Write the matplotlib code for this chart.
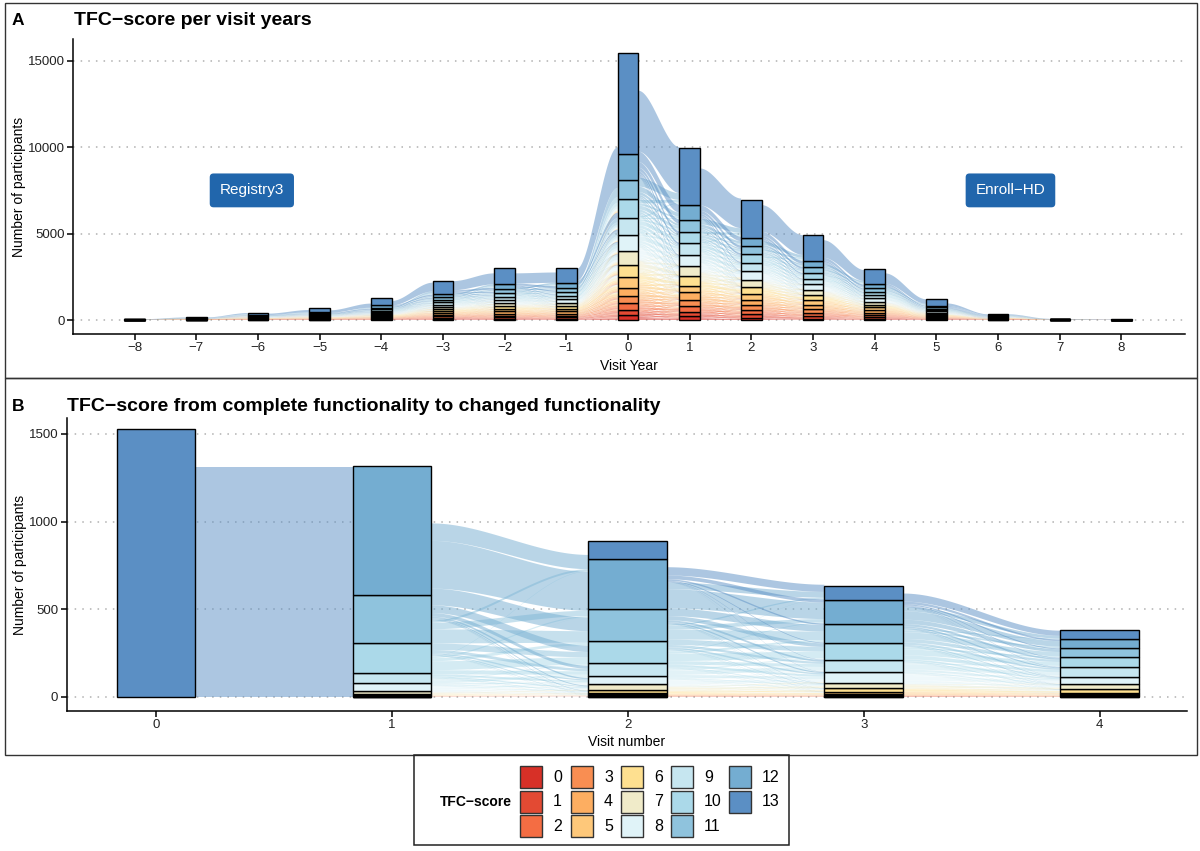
import numpy as np
import matplotlib.pyplot as plt
from matplotlib.collections import PolyCollection
from matplotlib.patches import Rectangle

plt.rcParams['font.family'] = ['Liberation Sans', 'DejaVu Sans']

MINUS = '\u2212'

# TFC-score palette (0 .. 13)
scores = list(range(14))
colours = ['#d73027', '#e34a33', '#f46d43', '#f98e52', '#fdae61', '#fec87a', '#fee090',
           '#f0ebc9', '#e0f3f8', '#c6e6f0', '#abd9e9', '#8fc3dd', '#74add1', '#5b8fc4']

# ---- panel A: participants per visit year, one row per year, columns = score 0..13
years = list(range(-8, 9))
counts_year = [
    [2, 2, 2, 3, 3, 3, 3, 3, 3, 3, 4, 4, 5, 10],                              # -8
    [6, 7, 7, 8, 8, 9, 9, 9, 10, 10, 11, 12, 14, 30],                         # -7
    [15, 15, 16, 18, 20, 22, 22, 24, 26, 28, 30, 34, 40, 120],                # -6
    [20, 22, 24, 27, 30, 32, 34, 36, 38, 42, 45, 50, 60, 255],                # -5
    [35, 40, 40, 45, 50, 55, 55, 60, 65, 75, 90, 105, 135, 400],              # -4
    [65, 70, 75, 85, 95, 105, 115, 125, 135, 145, 155, 165, 190, 725],        # -3
    [75, 85, 95, 115, 130, 145, 155, 170, 185, 200, 215, 230, 260, 930],      # -2
    [75, 85, 100, 115, 135, 150, 165, 180, 195, 210, 225, 245, 280, 870],     # -1
    [270, 310, 380, 440, 430, 640, 690, 850, 900, 970, 1110, 1100, 1510, 5870],  # 0
    [210, 270, 330, 350, 440, 365, 575, 580, 640, 710, 650, 680, 850, 3310],  # 1
    [135, 215, 230, 310, 290, 340, 400, 390, 520, 490, 500, 440, 500, 2180],  # 2
    [60, 170, 190, 220, 245, 275, 285, 305, 310, 330, 340, 350, 350, 1480],   # 3
    [85, 100, 115, 130, 145, 155, 165, 175, 180, 190, 200, 210, 230, 850],    # 4
    [40, 50, 45, 50, 55, 60, 60, 65, 70, 75, 80, 85, 95, 365],                # 5
    [15, 17, 16, 17, 18, 20, 22, 22, 24, 26, 28, 30, 35, 60],                 # 6
    [3, 4, 4, 4, 4, 5, 5, 5, 5, 6, 6, 7, 8, 14],                              # 7
    [1, 1, 1, 2, 2, 2, 2, 2, 2, 2, 2, 2, 3, 6],                               # 8
]
# participants carried by the flows, leaving year k / arriving at year k+1
flow_out_year = [50, 150, 370, 560, 1100, 2250, 2700, 2950, 13270, 8770, 6650, 4620, 2700, 960, 330, 60]
flow_in_year = [150, 400, 580, 950, 2160, 2700, 2750, 10000, 10000, 7030, 4910, 2890, 1200, 330, 70, 20]

# ---- panel B: from complete (13) to changed functionality
visits = [0, 1, 2, 3, 4]
counts_visit = [
    [0, 0, 0, 0, 0, 0, 0, 0, 0, 0, 0, 0, 0, 1530],
    [1, 1, 2, 2, 3, 3, 5, 17, 48, 57, 171, 272, 736, 0],
    [1, 2, 3, 4, 5, 6, 19, 32, 48, 76, 126, 177, 288, 105],
    [1, 2, 3, 4, 5, 15, 20, 28, 65, 68, 97, 108, 137, 82],
    [1, 2, 3, 5, 6, 8, 19, 30, 42, 57, 53, 54, 51, 51],
]
flow_out_visit = [1310, 990, 740, 590]
flow_in_visit = [1310, 810, 640, 378]

BW = 1 / 3


def transitions(left, right, spread):
    # spread each stratum over the next column's strata, favouring nearby scores
    p = np.asarray(left, float)
    p = p / p.sum()
    q = np.asarray(right, float)
    q = q / q.sum()
    idx = np.arange(len(p))
    m = np.exp(-np.abs(idx[:, None] - idx[None, :]) / spread)
    for _ in range(300):
        rs = m.sum(1)
        m *= np.divide(p, rs, out=np.zeros_like(p), where=rs > 0)[:, None]
        cs = m.sum(0)
        m *= np.divide(q, cs, out=np.zeros_like(q), where=cs > 0)[None, :]
    return m / m.sum()


def band(x0, x1, lo0, hi0, lo1, hi1, n=40):
    t = np.linspace(0, 1, n)
    s = t * t * (3 - 2 * t)
    xs = x0 + (x1 - x0) * t
    bot = lo0 + (lo1 - lo0) * s
    top = hi0 + (hi1 - hi0) * s
    return np.column_stack([np.r_[xs, xs[::-1]], np.r_[bot, top[::-1]]])


def draw_flows(ax, xs, counts, out_tot, in_tot, spread, alpha):
    n = len(scores)
    for k in range(len(xs) - 1):
        m = transitions(counts[k], counts[k + 1], spread)
        wl = m * out_tot[k]
        wr = m * in_tot[k]
        lo_l = np.zeros_like(m)
        lo_r = np.zeros_like(m)
        c = 0.0
        for i in range(n):
            for j in range(n):
                lo_l[i, j] = c
                c += wl[i, j]
        c = 0.0
        for j in range(n):
            for i in range(n):
                lo_r[i, j] = c
                c += wr[i, j]
        polys, cols = [], []
        for i in range(n):
            for j in range(n):
                if m[i, j] < 4e-4:
                    continue
                polys.append(band(xs[k] + BW / 2, xs[k + 1] - BW / 2,
                                  lo_l[i, j], lo_l[i, j] + wl[i, j],
                                  lo_r[i, j], lo_r[i, j] + wr[i, j]))
                cols.append(colours[i])
        ax.add_collection(PolyCollection(polys, facecolors=cols, edgecolors='none',
                                         alpha=alpha, zorder=1))


def draw_bars(ax, xs, counts):
    for x, row in zip(xs, counts):
        bottom = 0
        for s in scores:
            if row[s] > 0:
                ax.bar(x, row[s], bottom=bottom, width=BW, color=colours[s],
                       edgecolor='black', linewidth=1.0, zorder=3)
                bottom += row[s]


def style(ax):
    for side in ['top', 'right']:
        ax.spines[side].set_visible(False)
    for side in ['left', 'bottom']:
        ax.spines[side].set_linewidth(1.1)
    ax.tick_params(length=4, width=1.1, labelsize=9.5, labelcolor='#222222', pad=2)
    ax.yaxis.grid(True, linestyle=(0, (1, 4)), color='#b0b0b0', linewidth=1.1)
    ax.set_axisbelow(True)


fig = plt.figure(figsize=(12, 8.51), dpi=100)

bg = fig.add_axes([0, 0, 1, 1])
bg.set_xlim(0, 1200)
bg.set_ylim(851, 0)
bg.axis('off')
bg.add_patch(Rectangle((5, 3), 1192, 375, fill=False, ec='#333333', lw=1))
bg.add_patch(Rectangle((5, 378), 1192, 377, fill=False, ec='#333333', lw=1))

# ---------------- panel A
axA = fig.add_axes([73 / 1200, 1 - 334 / 851, (1185 - 73) / 1200, (334 - 39) / 851])
style(axA)
draw_flows(axA, years, counts_year, flow_out_year, flow_in_year, spread=1.6, alpha=0.5)
draw_bars(axA, years, counts_year)
axA.set_xlim(-9.0, 9.03)
axA.set_ylim(-810, 16260)
axA.set_xticks(years)
axA.set_xticklabels([str(y).replace('-', MINUS) for y in years])
axA.set_yticks([0, 5000, 10000, 15000])
axA.set_xlabel('Visit Year', fontsize=10, labelpad=3)
axA.set_ylabel('Number of participants', fontsize=10, labelpad=1)
for label, xpos in [('Registry3', -6.1), ('Enroll' + MINUS + 'HD', 6.2)]:
    axA.text(xpos, 7500, label, color='white', fontsize=11, ha='center', va='center', zorder=5,
             bbox=dict(boxstyle='round,pad=0.65,rounding_size=0.25', fc='#2166ac', ec='none'))

bg.text(12, 25, 'A', fontsize=12.5, fontweight='bold', va='baseline')
bg.text(74, 25, 'TFC' + MINUS + 'score per visit years', fontsize=14, fontweight='bold', va='baseline')

# ---------------- panel B
axB = fig.add_axes([66.7 / 1200, 1 - 711 / 851, (1187 - 66.7) / 1200, (711 - 418) / 851])
style(axB)
draw_flows(axB, visits, counts_visit, flow_out_visit, flow_in_visit, spread=1.1, alpha=0.5)
draw_bars(axB, visits, counts_visit)
axB.set_xlim(-0.378, 4.37)
axB.set_ylim(-80, 1591)
axB.set_xticks(visits)
axB.set_yticks([0, 500, 1000, 1500])
axB.set_xlabel('Visit number', fontsize=10, labelpad=3)
axB.set_ylabel('Number of participants', fontsize=10, labelpad=1.5)

bg.text(12, 411, 'B', fontsize=12.5, fontweight='bold', va='baseline')
bg.text(67, 411, 'TFC' + MINUS + 'score from complete functionality to changed functionality',
        fontsize=14, fontweight='bold', va='baseline')

# ---------------- legend
bg.add_patch(Rectangle((414, 755), 375, 90, fill=False, ec='#222222', lw=1.1))
bg.text(440, 802, 'TFC' + MINUS + 'score', fontsize=10, fontweight='bold', va='center')
key_x = [520, 571, 621, 671, 729]
for i, s in enumerate(scores):
    col, row = i // 3, i % 3
    y0 = 766 + row * 24.5
    bg.add_patch(Rectangle((key_x[col], y0), 22, 22, fc=colours[s], ec='#333333', lw=1))
    bg.text(key_x[col] + 33, y0 + 11.5, str(s), fontsize=11.5, va='center')

fig.savefig('out.png', dpi=100)
